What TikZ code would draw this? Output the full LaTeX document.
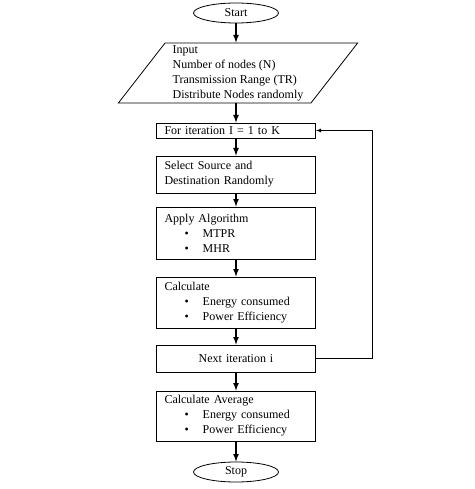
\documentclass[tikz,border=0pt]{standalone}
\usepackage{fontspec}
\setmainfont{Liberation Serif}
\usetikzlibrary{calc,positioning,arrows,shapes.geometric}
\newcommand{\itm}[1]{\hspace*{20pt}\textbullet\hspace{14pt}#1}

\begin{document}
\begin{tikzpicture}[x=1pt,y=-1pt,font=\fontsize{12}{15}\selectfont,
    term/.style={draw,ellipse,line width=0.8pt,minimum width=85pt,minimum height=20pt,inner sep=0pt},
    io/.style={draw,trapezium,trapezium left angle=53,trapezium right angle=127,trapezium stretches=true,minimum width=240pt,minimum height=60pt,line width=0.8pt,align=left,inner sep=0pt},
    box/.style={draw,rectangle,line width=0.8pt,text width=143pt,inner xsep=8pt,inner ysep=0pt,align=left},
    flow/.style={-latex,line width=1.6pt}]
    \useasboundingbox (0,0) rectangle (474,489);
    \node[term] (start) at (236,13) {Start};
    \node[io] (input) at (238,73) {Input\\Number of nodes (N)\\Transmission Range (TR)\\Distribute Nodes randomly};
    \node[box,minimum height=15pt] (iter) at (236,130.5) {For iteration I = 1 to K};
    \node[box,minimum height=37pt] (select) at (236,174.5) {Select Source and\\Destination Randomly};
    \node[box,minimum height=52pt] (apply) at (236,233) {Apply Algorithm\\\itm{MTPR}\\\itm{MHR}};
    \node[box,minimum height=51pt] (calc) at (236,302.5) {Calculate\\\itm{Energy consumed}\\\itm{Power Efficiency}};
    \node[box,minimum height=27pt,align=center] (next) at (236,358.5) {Next iteration i};
    \node[box,minimum height=50pt] (avg) at (236,416) {Calculate Average\\\itm{Energy consumed}\\\itm{Power Efficiency}};
    \node[term] (stop) at (236,472) {Stop};

    \draw[flow] (start) -- (start |- input.north);
    \draw[flow] (input.south -| iter) -- (iter);
    \draw[flow] (iter) -- (select);
    \draw[flow] (select) -- (apply);
    \draw[flow] (apply) -- (calc);
    \draw[flow] (calc) -- (next);
    \draw[flow] (next) -- (avg);
    \draw[flow] (avg) -- (stop);
    \draw[-latex,line width=0.8pt] (next.east) -- ++(56,0) |- (iter.east);
\end{tikzpicture}
\end{document}
